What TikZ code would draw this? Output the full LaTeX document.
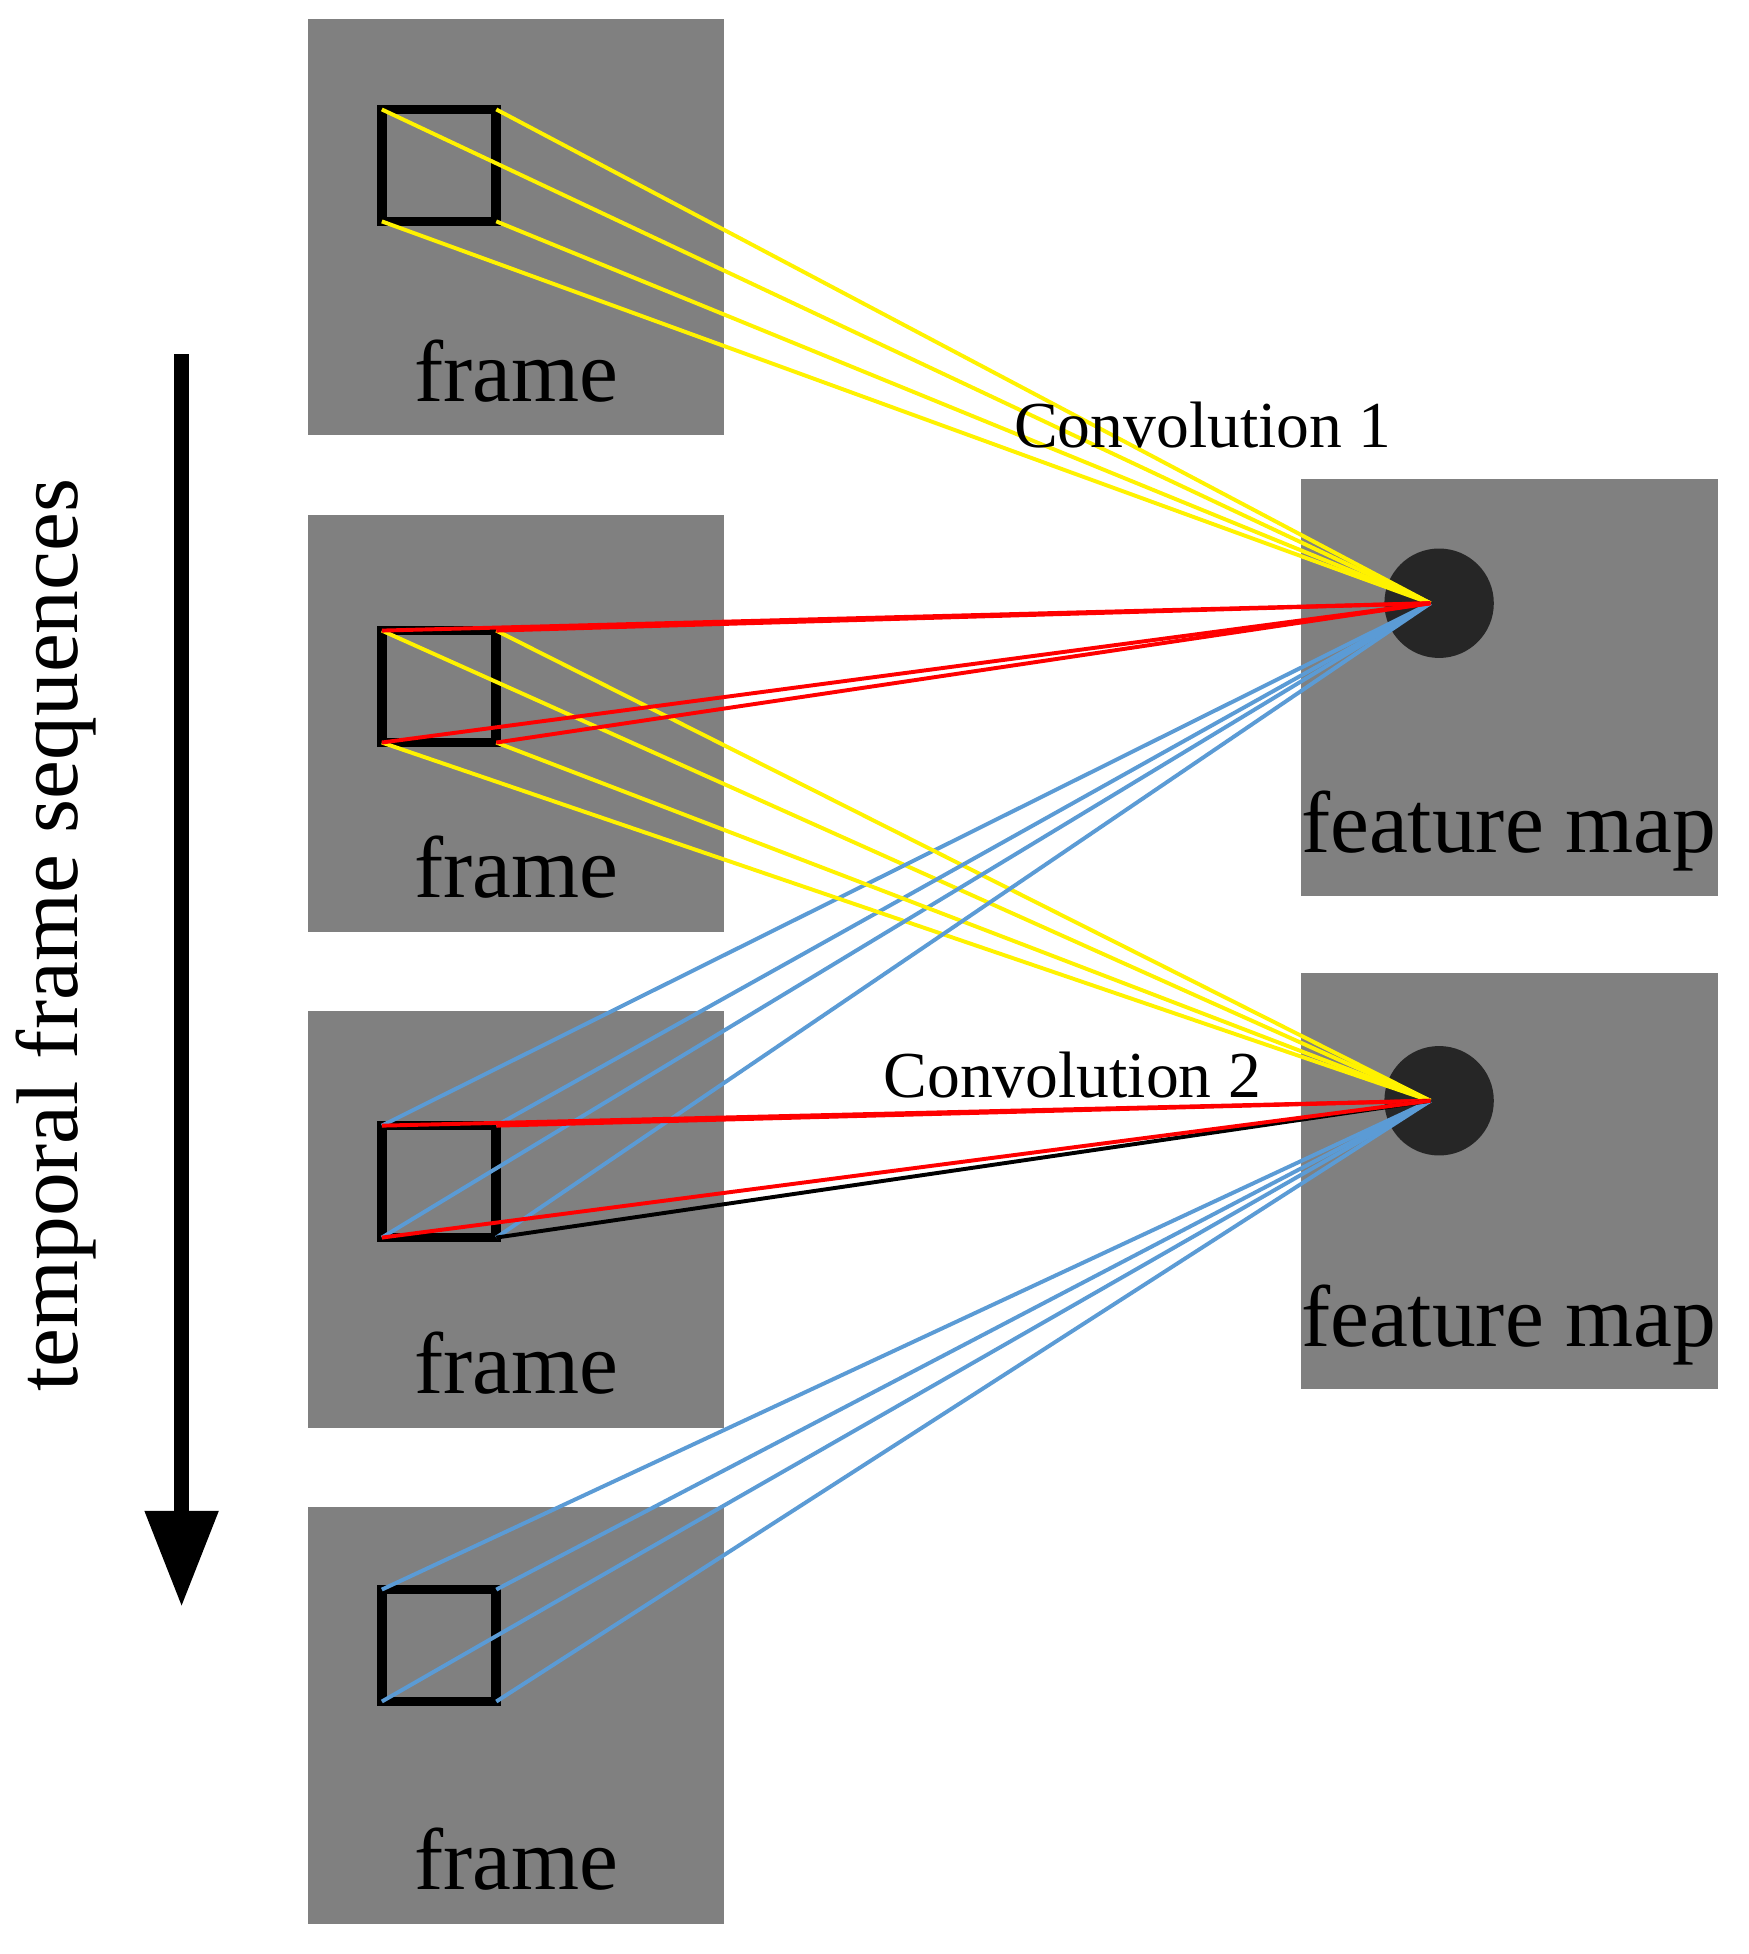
\documentclass[tikz,border=0pt]{standalone}
\usepackage{fontspec}
\setmainfont{Liberation Serif}
\usetikzlibrary{arrows.meta}
\begin{document}
\begin{tikzpicture}[x=0.01cm,y=-0.01cm,
  panel/.style={fill=black!50,draw=none},
  win/.style={draw=black,line width=2.2pt},
  lbl/.style={font=\fontsize{20}{24}\selectfont},
  conv/.style={font=\fontsize{15}{18}\selectfont},
  yl/.style={draw=yellow,line width=0.9pt},
  rl/.style={draw=red,line width=0.9pt},
  bl/.style={draw={rgb,255:red,91;green,155;blue,213},line width=0.9pt}]
\useasboundingbox (0,0) rectangle (1406,1571);
\foreach \y/\n in {15/1,414/2,813/3,1212/4}{
  \fill[panel] (248,\y) rectangle (582,\y+335);
  \node[lbl] (fl\n) at (415,\y+283) {frame};
}
\foreach \y/\n in {385/1,782/2}{
  \fill[panel] (1046,\y) rectangle (1381,\y+335);
  \node[lbl] (fm\n) at (1213,\y+283) {feature map};
}
\fill[black!85] (1157,485) circle (44);
\fill[black!85] (1157,885) circle (44);
\coordinate (c1) at (1150,485);
\coordinate (c2) at (1150,885);
\foreach \y/\n in {88/1,507/2,905/3,1278/4}{
  \draw[win] (307,\y) rectangle (399,\y+90);
  \coordinate (a\n) at (307,\y); \coordinate (b\n) at (399,\y);
  \coordinate (d\n) at (307,\y+90); \coordinate (e\n) at (399,\y+90);
}
\foreach \p in {a,b,d,e}{
  \draw[yl] (\p1) -- (c1);
  \draw[yl] (\p2) -- (c2);
  \draw[bl] (\p3) -- (c1);
  \draw[bl] (\p4) -- (c2);
}
\draw[rl] (a2) -- (c1); \draw[rl] (b2) -- (c1);
\draw[rl] (d2) -- (c1); \draw[rl] (e2) -- (c1);
\draw[rl] (a3) -- (c2); \draw[rl] (b3) -- (c2);
\draw[black,line width=0.9pt] (e3) -- (c2);
\draw[rl] (d3) -- (c2);
\node[conv] (cv1) at (967,342) {Convolution 1};
\node[conv] (cv2) at (862,864) {Convolution 2};
\coordinate (s) at (146,285); \coordinate (t) at (146,1292);
\draw[line width=3.5pt,-{Triangle[length=22pt,width=16pt]}] (s) -- (t);
\node[lbl,rotate=90] (tf) at (45,752) {temporal frame sequences};
\end{tikzpicture}
\end{document}
